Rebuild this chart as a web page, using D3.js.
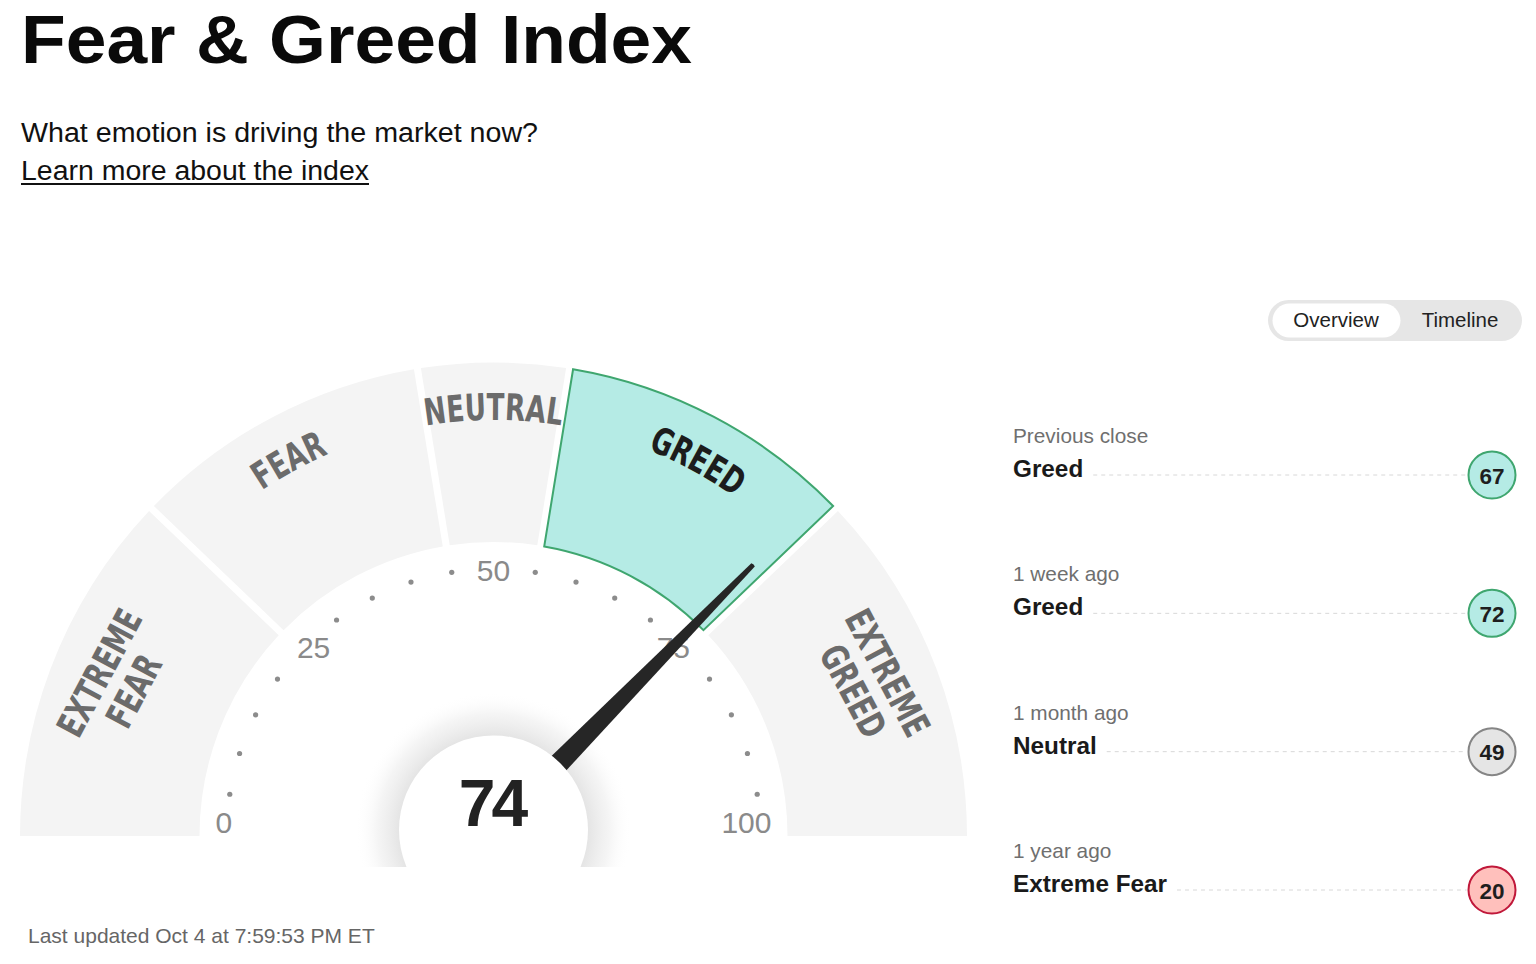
<!DOCTYPE html>
<html><head><meta charset="utf-8">
<script src="https://cdn.jsdelivr.net/npm/d3@7"></script>
<style>
html,body{margin:0;padding:0;background:#fff;}
svg{display:block;}
</style></head><body>
<svg id="chart" width="1536" height="964"></svg>
<script>
// ---------------- DATA ----------------
const titleText = "Fear & Greed Index";
const subtitleText = "What emotion is driving the market now?";
const linkText = "Learn more about the index";
const footerText = "Last updated Oct 4 at 7:59:53 PM ET";
const segmentNames = ["EXTREME FEAR", "FEAR", "NEUTRAL", "GREED", "EXTREME GREED"];
const segmentStarts = [0, 25, 45, 55, 75];
const segmentEnds = [25, 45, 55, 75, 100];
const currentValue = 74;
const tickLabels = [0, 25, 50, 75, 100];
const tickDots = [5, 10, 15, 20, 30, 35, 40, 45, 55, 60, 65, 70, 80, 85, 90, 95];
const historyLabels = ["Previous close", "1 week ago", "1 month ago", "1 year ago"];
const historyRatings = ["Greed", "Greed", "Neutral", "Extreme Fear"];
const historyValues = [67, 72, 49, 20];
const tabNames = ["Overview", "Timeline"];

// ---------------- STYLE / LAYOUT ----------------
const sans = "'Liberation Sans', Arial, Helvetica, sans-serif";
const narrow = "'Liberation Sans Narrow', 'DejaVu Sans Condensed', 'Liberation Sans', sans-serif";
const ratingStyle = {
  "Extreme Fear": {fill: "#ffc0bc", stroke: "#c0183a"},
  "Fear": {fill: "#ffd6cf", stroke: "#d0453a"},
  "Neutral": {fill: "#e5e5e5", stroke: "#858585"},
  "Greed": {fill: "#b5ebe5", stroke: "#3fa66f"},
  "Extreme Greed": {fill: "#8fdccd", stroke: "#2a8a5a"}
};

const svg = d3.select("#chart");
const defs = svg.append("defs");

// ---------------- HEADER ----------------
svg.append("text").attr("x", 21).attr("y", 63)
  .attr("font-family", sans).attr("font-weight", "bold").attr("font-size", 69)
  .attr("fill", "#0a0a0a").attr("textLength", 671).attr("lengthAdjust", "spacingAndGlyphs")
  .text(titleText);
svg.append("text").attr("x", 21).attr("y", 142)
  .attr("font-family", sans).attr("font-size", 27).attr("fill", "#111")
  .attr("textLength", 517).attr("lengthAdjust", "spacingAndGlyphs")
  .text(subtitleText);
svg.append("text").attr("x", 21).attr("y", 180)
  .attr("font-family", sans).attr("font-size", 27).attr("fill", "#111")
  .attr("textLength", 348).attr("lengthAdjust", "spacingAndGlyphs")
  .text(linkText);
svg.append("line").attr("x1", 21).attr("x2", 21 + 348).attr("y1", 184).attr("y2", 184)
  .attr("stroke", "#111").attr("stroke-width", 2);

// ---------------- GAUGE ----------------
const cx = 493.5, cy = 836, rIn = 294, rOut = 473.5, pivotDy = -6;
const deg2rad = Math.PI / 180;
// band / needle scale (sweeps slightly past horizontal, clipped at the baseline)
const bandAngle = d3.scaleLinear().domain([0, 100]).range([-92.5 * deg2rad, 92.5 * deg2rad]);
// tick scale
const tickAngle = d3.scaleLinear().domain([0, 100]).range([-Math.PI / 2, Math.PI / 2]);
const pad = 0.016;
const arc = d3.arc().innerRadius(rIn).outerRadius(rOut).padAngle(pad).padRadius(440);

const segs = segmentNames.map((n, i) => ({name: n, start: segmentStarts[i], end: segmentEnds[i]}));
const activeIdx = segs.findIndex(s => currentValue >= s.start && currentValue < s.end);

defs.append("clipPath").attr("id", "base").append("rect")
  .attr("x", 0).attr("y", 0).attr("width", 1536).attr("height", cy);

const gauge = svg.append("g");
gauge.append("g").attr("clip-path", "url(#base)")
  .selectAll("path.seg").data(segs).join("path")
  .attr("class", "seg")
  .attr("transform", `translate(${cx},${cy})`)
  .attr("d", d => arc({startAngle: bandAngle(d.start), endAngle: bandAngle(d.end)}))
  .attr("fill", (d, i) => i === activeIdx ? "#b5ebe5" : "#f4f4f4")
  .attr("stroke", (d, i) => i === activeIdx ? "#3fa66f" : "none")
  .attr("stroke-width", 2);

// segment labels
const probe = svg.append("text").attr("font-family", narrow).attr("font-weight", "bold")
  .attr("font-size", 37).text("NEUTRAL");
const squeeze = 136 / probe.node().getComputedTextLength();
probe.remove();

segs.forEach((s, i) => {
  const words = s.name.split(" ");
  const color = i === activeIdx ? "#1c1c1c" : "#6b6b6b";
  const mid = (s.start + s.end) / 2;
  if (words.length === 1) {
    const c = 50 + (mid - 50) * 1.03;
    const half = (s.end - s.start) / 2;
    const p = d3.path();
    p.arc(cx, cy, 416, bandAngle(c - half) - Math.PI / 2, bandAngle(c + half) - Math.PI / 2);
    defs.append("path").attr("id", "lp" + i).attr("d", p.toString());
    const t = gauge.append("text").attr("font-family", narrow).attr("font-weight", "bold")
      .attr("font-size", 37).attr("fill", color).attr("text-anchor", "middle");
    const tp = t.append("textPath").attr("href", "#lp" + i).attr("startOffset", "50%").text(s.name);
    const w = t.node().getComputedTextLength();
    tp.attr("textLength", w * squeeze).attr("lengthAdjust", "spacingAndGlyphs");
  } else {
    const a = tickAngle(mid);
    let deg = a / deg2rad;
    deg = Math.max(-62, Math.min(62, deg));
    const r = 426;
    const g = gauge.append("g")
      .attr("transform", `translate(${cx + r * Math.sin(a)},${cy - r * Math.cos(a)}) rotate(${deg})`);
    words.forEach((wd, k) => {
      const t = g.append("text").attr("x", 0).attr("y", k * 39)
        .attr("font-family", narrow).attr("font-weight", "bold").attr("font-size", 37)
        .attr("fill", color).attr("text-anchor", "middle").attr("dominant-baseline", "central")
        .text(wd);
      const w = t.node().getComputedTextLength();
      t.attr("textLength", w * squeeze).attr("lengthAdjust", "spacingAndGlyphs");
    });
  }
});

// tick dots
gauge.selectAll("circle.dot").data(tickDots).join("circle")
  .attr("class", "dot")
  .attr("cx", v => cx + 267 * Math.sin(tickAngle(v)))
  .attr("cy", v => cy - 267 * Math.cos(tickAngle(v)))
  .attr("r", 2.6).attr("fill", "#8c8c8c");

// tick labels
gauge.selectAll("text.tick").data(tickLabels).join("text")
  .attr("class", "tick")
  .attr("x", v => cx + 278 * Math.sin(tickAngle(v)))
  .attr("y", v => Math.min(cy - 266 * Math.cos(tickAngle(v)), cy - 14))
  .attr("text-anchor", v => v < 50 ? "start" : (v > 50 ? "end" : "middle"))
  .attr("dominant-baseline", "central")
  .attr("font-family", sans).attr("font-size", 30).attr("fill", "#8a8a8a")
  .text(v => v);

// center halo + needle + disc
const grad = defs.append("radialGradient").attr("id", "halo");
grad.append("stop").attr("offset", "0.68").attr("stop-color", "#e4e4e4").attr("stop-opacity", 1);
grad.append("stop").attr("offset", "0.84").attr("stop-color", "#f0f0f0").attr("stop-opacity", 0.7);
grad.append("stop").attr("offset", "1").attr("stop-color", "#ffffff").attr("stop-opacity", 0);
defs.append("clipPath").attr("id", "cut").append("rect")
  .attr("x", 0).attr("y", 0).attr("width", 1536).attr("height", 867);

const py = cy + pivotDy;
svg.append("g").attr("clip-path", "url(#cut)")
  .append("circle").attr("cx", cx).attr("cy", py).attr("r", 138).attr("fill", "url(#halo)");

const needleDeg = bandAngle(currentValue) / deg2rad;
svg.append("path")
  .attr("transform", `translate(${cx},${py}) rotate(${needleDeg})`)
  .attr("d", "M-13,0 L-2.4,-371 Q0,-372.5 2.4,-371 L13,0 Z")
  .attr("fill", "#262626");

svg.append("g").attr("clip-path", "url(#cut)")
  .append("circle").attr("cx", cx).attr("cy", py).attr("r", 94.5).attr("fill", "#fff");

svg.append("text").attr("x", cx - 2).attr("y", 826)
  .attr("text-anchor", "middle").attr("font-family", sans).attr("font-weight", "bold")
  .attr("font-size", 66).attr("letter-spacing", -4).attr("fill", "#222")
  .text(currentValue);

// ---------------- TOGGLE ----------------
svg.append("rect").attr("x", 1268).attr("y", 300).attr("width", 254).attr("height", 41)
  .attr("rx", 20.5).attr("fill", "#e6e6e6");
svg.append("rect").attr("x", 1272.5).attr("y", 303.5).attr("width", 128).attr("height", 34)
  .attr("rx", 17).attr("fill", "#fff");
const tabX = d3.scalePoint().domain(tabNames).range([1336, 1460]);
svg.selectAll("text.tab").data(tabNames).join("text")
  .attr("class", "tab")
  .attr("x", d => tabX(d)).attr("y", 327)
  .attr("text-anchor", "middle").attr("font-family", sans).attr("font-size", 20.5)
  .attr("fill", "#222").text(d => d);

// ---------------- HISTORY ----------------
const rowY = d3.scalePoint().domain(historyLabels).range([443, 858]);
const circX = 1492, circR = 23.5;
historyLabels.forEach((lab, i) => {
  const y0 = rowY(lab);
  const rating = historyRatings[i];
  const st = ratingStyle[rating];
  svg.append("text").attr("x", 1013).attr("y", y0)
    .attr("font-family", sans).attr("font-size", 20.8).attr("fill", "#6f6f6f").text(lab);
  const rt = svg.append("text").attr("x", 1013).attr("y", y0 + 34)
    .attr("font-family", sans).attr("font-weight", "bold").attr("font-size", 24.3)
    .attr("fill", "#1a1a1a").text(rating);
  const rw = rt.node().getComputedTextLength();
  const cyc = y0 + 32;
  svg.append("line").attr("x1", 1013 + rw + 10).attr("x2", circX - circR - 2)
    .attr("y1", cyc).attr("y2", cyc)
    .attr("stroke", "#d8d8d8").attr("stroke-width", 1).attr("stroke-dasharray", "4,4");
  svg.append("circle").attr("cx", circX).attr("cy", cyc).attr("r", circR)
    .attr("fill", st.fill).attr("stroke", st.stroke).attr("stroke-width", 2);
  svg.append("text").attr("x", circX).attr("y", cyc + 1)
    .attr("text-anchor", "middle").attr("dominant-baseline", "central")
    .attr("font-family", sans).attr("font-weight", "bold").attr("font-size", 22.5)
    .attr("fill", "#1e1e1e").text(historyValues[i]);
});

// ---------------- FOOTER ----------------
svg.append("text").attr("x", 28).attr("y", 943)
  .attr("font-family", sans).attr("font-size", 21).attr("fill", "#666").text(footerText);
</script>
</body></html>
